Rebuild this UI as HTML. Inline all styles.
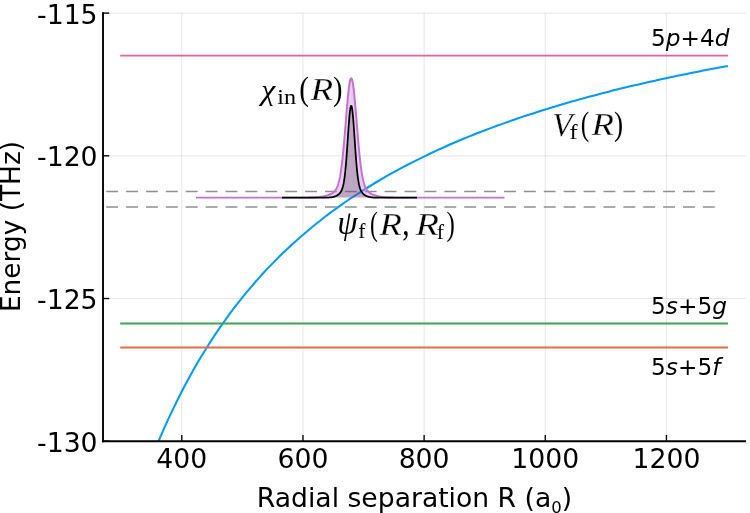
<!DOCTYPE html>
<html><head><meta charset="utf-8"><title>Energy vs radial separation</title>
<style>
html,body{margin:0;padding:0;background:#fff;}
svg{display:block;}
.sans{font-family:"DejaVu Sans","Liberation Sans",sans-serif;fill:#000;}
.ser{font-family:"Liberation Serif","DejaVu Serif",serif;fill:#000;}
.it{font-style:italic;}
</style></head><body>
<svg width="750" height="513" viewBox="0 0 750 513">
<rect width="750" height="513" fill="#fff"/>

<g stroke="#000" stroke-opacity="0.1" stroke-width="1" fill="none">
<line x1="181.80" y1="13.11" x2="181.80" y2="441.25"/>
<line x1="302.96" y1="13.11" x2="302.96" y2="441.25"/>
<line x1="424.12" y1="13.11" x2="424.12" y2="441.25"/>
<line x1="545.28" y1="13.11" x2="545.28" y2="441.25"/>
<line x1="666.44" y1="13.11" x2="666.44" y2="441.25"/>
<line x1="103.0" y1="13.11" x2="746.0" y2="13.11"/>
<line x1="103.0" y1="155.82" x2="746.0" y2="155.82"/>
<line x1="103.0" y1="298.53" x2="746.0" y2="298.53"/>
</g>
<clipPath id="pa"><rect x="103.0" y="13.11" width="643.0" height="428.14"/></clipPath>
<polyline clip-path="url(#pa)" points="156.2,446.9 160.3,437.2 164.4,427.7 168.5,418.6 172.7,409.9 176.8,401.4 180.9,393.2 185.0,385.3 189.1,377.7 193.2,370.3 197.3,363.1 201.4,356.2 205.6,349.5 209.7,343.0 213.8,336.6 217.9,330.5 222.0,324.6 226.1,318.8 230.2,313.2 234.3,307.7 238.5,302.4 242.6,297.2 246.7,292.2 250.8,287.3 254.9,282.5 259.0,277.9 263.1,273.3 267.2,268.9 271.4,264.6 275.5,260.4 279.6,256.3 283.7,252.3 287.8,248.4 291.9,244.6 296.0,240.9 300.1,237.2 304.3,233.7 308.4,230.2 312.5,226.8 316.6,223.5 320.7,220.2 324.8,217.0 328.9,213.9 333.0,210.8 337.2,207.8 341.3,204.9 345.4,202.0 349.5,199.2 353.6,196.5 357.7,193.8 361.8,191.1 365.9,188.5 370.1,186.0 374.2,183.5 378.3,181.0 382.4,178.6 386.5,176.2 390.6,173.9 394.7,171.6 398.8,169.4 403.0,167.2 407.1,165.0 411.2,162.9 415.3,160.8 419.4,158.8 423.5,156.8 427.6,154.8 431.8,152.8 435.9,150.9 440.0,149.0 444.1,147.2 448.2,145.3 452.3,143.5 456.4,141.8 460.5,140.0 464.7,138.3 468.8,136.6 472.9,135.0 477.0,133.3 481.1,131.7 485.2,130.2 489.3,128.6 493.4,127.1 497.6,125.5 501.7,124.1 505.8,122.6 509.9,121.1 514.0,119.7 518.1,118.3 522.2,116.9 526.3,115.5 530.5,114.2 534.6,112.9 538.7,111.5 542.8,110.2 546.9,109.0 551.0,107.7 555.1,106.5 559.2,105.2 563.4,104.0 567.5,102.8 571.6,101.6 575.7,100.5 579.8,99.3 583.9,98.2 588.0,97.1 592.1,96.0 596.3,94.9 600.4,93.8 604.5,92.7 608.6,91.7 612.7,90.6 616.8,89.6 620.9,88.6 625.0,87.6 629.2,86.6 633.3,85.6 637.4,84.7 641.5,83.7 645.6,82.8 649.7,81.8 653.8,80.9 658.0,80.0 662.1,79.1 666.2,78.2 670.3,77.3 674.4,76.4 678.5,75.6 682.6,74.7 686.7,73.9 690.9,73.0 695.0,72.2 699.1,71.4 703.2,70.6 707.3,69.8 711.4,69.0 715.5,68.2 719.6,67.5 723.8,66.7 727.9,65.9" fill="none" stroke="#009AFA" stroke-width="2.05" stroke-linejoin="round"/>
<line x1="120.2" y1="55.6" x2="728" y2="55.6" stroke="#ED5E93" stroke-width="1.9"/>
<line x1="120.2" y1="323.5" x2="728" y2="323.5" stroke="#3EA44E" stroke-width="1.9"/>
<line x1="120.2" y1="347.5" x2="728" y2="347.5" stroke="#E36F47" stroke-width="1.9"/>
<line x1="106.2" y1="191.5" x2="716" y2="191.5" stroke="#8f8f8f" stroke-width="1.6" stroke-dasharray="11.89 8"/>
<line x1="106.2" y1="207.0" x2="716" y2="207.0" stroke="#8f8f8f" stroke-width="1.6" stroke-dasharray="11.89 8"/>
<polygon points="196,197.6 196.0,197.6 196.5,197.6 197.0,197.6 197.5,197.6 198.0,197.6 198.5,197.6 199.0,197.6 199.5,197.6 200.0,197.6 200.5,197.6 201.0,197.6 201.5,197.6 202.0,197.6 202.5,197.6 203.0,197.6 203.5,197.6 204.0,197.6 204.5,197.6 205.0,197.6 205.5,197.6 206.0,197.6 206.5,197.6 207.0,197.6 207.5,197.6 208.0,197.6 208.5,197.6 209.0,197.6 209.5,197.6 210.0,197.6 210.5,197.6 211.0,197.6 211.5,197.6 212.0,197.6 212.5,197.6 213.0,197.6 213.5,197.6 214.0,197.6 214.5,197.6 215.0,197.6 215.5,197.6 216.0,197.6 216.5,197.6 217.0,197.6 217.5,197.6 218.0,197.6 218.5,197.6 219.0,197.6 219.5,197.6 220.0,197.6 220.5,197.6 221.0,197.6 221.5,197.6 222.0,197.6 222.5,197.6 223.0,197.6 223.5,197.6 224.0,197.6 224.5,197.6 225.0,197.6 225.5,197.6 226.0,197.6 226.5,197.6 227.0,197.6 227.5,197.6 228.0,197.6 228.5,197.6 229.0,197.6 229.5,197.6 230.0,197.6 230.5,197.6 231.0,197.6 231.5,197.6 232.0,197.6 232.5,197.6 233.0,197.6 233.5,197.6 234.0,197.6 234.5,197.6 235.0,197.6 235.5,197.6 236.0,197.6 236.5,197.6 237.0,197.6 237.5,197.6 238.0,197.6 238.5,197.6 239.0,197.6 239.5,197.6 240.0,197.6 240.5,197.6 241.0,197.6 241.5,197.6 242.0,197.6 242.5,197.6 243.0,197.6 243.5,197.6 244.0,197.6 244.5,197.6 245.0,197.6 245.5,197.6 246.0,197.6 246.5,197.6 247.0,197.6 247.5,197.6 248.0,197.6 248.5,197.6 249.0,197.6 249.5,197.6 250.0,197.6 250.5,197.6 251.0,197.6 251.5,197.6 252.0,197.6 252.5,197.6 253.0,197.6 253.5,197.6 254.0,197.6 254.5,197.6 255.0,197.6 255.5,197.6 256.0,197.6 256.5,197.6 257.0,197.6 257.5,197.6 258.0,197.6 258.5,197.6 259.0,197.6 259.5,197.6 260.0,197.6 260.5,197.6 261.0,197.6 261.5,197.6 262.0,197.6 262.5,197.6 263.0,197.6 263.5,197.6 264.0,197.6 264.5,197.6 265.0,197.6 265.5,197.6 266.0,197.6 266.5,197.6 267.0,197.6 267.5,197.6 268.0,197.6 268.5,197.6 269.0,197.6 269.5,197.6 270.0,197.6 270.5,197.6 271.0,197.6 271.5,197.6 272.0,197.6 272.5,197.6 273.0,197.6 273.5,197.6 274.0,197.6 274.5,197.6 275.0,197.6 275.5,197.6 276.0,197.6 276.5,197.6 277.0,197.6 277.5,197.6 278.0,197.6 278.5,197.6 279.0,197.6 279.5,197.6 280.0,197.6 280.5,197.6 281.0,197.6 281.5,197.6 282.0,197.6 282.5,197.6 283.0,197.6 283.5,197.6 284.0,197.6 284.5,197.6 285.0,197.6 285.5,197.6 286.0,197.6 286.5,197.6 287.0,197.6 287.5,197.6 288.0,197.6 288.5,197.6 289.0,197.6 289.5,197.6 290.0,197.6 290.5,197.6 291.0,197.6 291.5,197.6 292.0,197.6 292.5,197.6 293.0,197.6 293.5,197.6 294.0,197.6 294.5,197.6 295.0,197.6 295.5,197.6 296.0,197.6 296.5,197.6 297.0,197.6 297.5,197.6 298.0,197.6 298.5,197.6 299.0,197.6 299.5,197.6 300.0,197.6 300.5,197.6 301.0,197.6 301.5,197.6 302.0,197.6 302.5,197.6 303.0,197.6 303.5,197.6 304.0,197.6 304.5,197.6 305.0,197.6 305.5,197.6 306.0,197.6 306.5,197.6 307.0,197.6 307.5,197.6 308.0,197.6 308.5,197.6 309.0,197.5 309.5,197.5 310.0,197.5 310.5,197.5 311.0,197.5 311.5,197.5 312.0,197.5 312.5,197.5 313.0,197.5 313.5,197.4 314.0,197.4 314.5,197.4 315.0,197.4 315.5,197.3 316.0,197.3 316.5,197.3 317.0,197.2 317.5,197.2 318.0,197.2 318.5,197.1 319.0,197.1 319.5,197.0 320.0,196.9 320.5,196.9 321.0,196.8 321.5,196.7 322.0,196.7 322.5,196.6 323.0,196.5 323.5,196.4 324.0,196.3 324.5,196.1 325.0,196.0 325.5,195.9 326.0,195.8 326.5,195.6 327.0,195.5 327.5,195.3 328.0,195.1 328.5,194.9 329.0,194.7 329.5,194.5 330.0,194.3 330.5,194.1 331.0,193.8 331.5,193.6 332.0,193.3 332.5,193.0 333.0,192.6 333.5,192.2 334.0,191.8 334.5,191.3 335.0,190.7 335.5,190.1 336.0,189.3 336.5,188.4 337.0,187.4 337.5,186.2 338.0,184.8 338.5,183.2 339.0,181.3 339.5,179.2 340.0,176.7 340.5,173.8 341.0,170.6 341.5,167.0 342.0,163.0 342.5,158.6 343.0,153.8 343.5,148.7 344.0,143.1 344.5,137.4 345.0,131.4 345.5,125.2 346.0,119.0 346.5,112.9 347.0,106.9 347.5,101.2 348.0,95.9 348.5,91.1 349.0,86.9 349.5,83.5 350.0,80.9 350.5,79.1 351.0,78.3 351.5,78.4 352.0,79.4 352.5,81.3 353.0,84.1 353.5,87.7 354.0,92.0 354.5,96.9 355.0,102.3 355.5,108.1 356.0,114.1 356.5,120.2 357.0,126.4 357.5,132.6 358.0,138.5 358.5,144.3 359.0,149.7 359.5,154.8 360.0,159.5 360.5,163.9 361.0,167.8 361.5,171.3 362.0,174.4 362.5,177.2 363.0,179.6 363.5,181.7 364.0,183.6 364.5,185.1 365.0,186.5 365.5,187.6 366.0,188.6 366.5,189.5 367.0,190.2 367.5,190.8 368.0,191.4 368.5,191.9 369.0,192.3 369.5,192.7 370.0,193.0 370.5,193.3 371.0,193.6 371.5,193.9 372.0,194.1 372.5,194.4 373.0,194.6 373.5,194.8 374.0,195.0 374.5,195.2 375.0,195.3 375.5,195.5 376.0,195.6 376.5,195.8 377.0,195.9 377.5,196.1 378.0,196.2 378.5,196.3 379.0,196.4 379.5,196.5 380.0,196.6 380.5,196.7 381.0,196.7 381.5,196.8 382.0,196.9 382.5,197.0 383.0,197.0 383.5,197.1 384.0,197.1 384.5,197.2 385.0,197.2 385.5,197.2 386.0,197.3 386.5,197.3 387.0,197.3 387.5,197.4 388.0,197.4 388.5,197.4 389.0,197.4 389.5,197.5 390.0,197.5 390.5,197.5 391.0,197.5 391.5,197.5 392.0,197.5 392.5,197.5 393.0,197.5 393.5,197.5 394.0,197.6 394.5,197.6 395.0,197.6 395.5,197.6 396.0,197.6 396.5,197.6 397.0,197.6 397.5,197.6 398.0,197.6 398.5,197.6 399.0,197.6 399.5,197.6 400.0,197.6 400.5,197.6 401.0,197.6 401.5,197.6 402.0,197.6 402.5,197.6 403.0,197.6 403.5,197.6 404.0,197.6 404.5,197.6 405.0,197.6 405.5,197.6 406.0,197.6 406.5,197.6 407.0,197.6 407.5,197.6 408.0,197.6 408.5,197.6 409.0,197.6 409.5,197.6 410.0,197.6 410.5,197.6 411.0,197.6 411.5,197.6 412.0,197.6 412.5,197.6 413.0,197.6 413.5,197.6 414.0,197.6 414.5,197.6 415.0,197.6 415.5,197.6 416.0,197.6 416.5,197.6 417.0,197.6 417.5,197.6 418.0,197.6 418.5,197.6 419.0,197.6 419.5,197.6 420.0,197.6 420.5,197.6 421.0,197.6 421.5,197.6 422.0,197.6 422.5,197.6 423.0,197.6 423.5,197.6 424.0,197.6 424.5,197.6 425.0,197.6 425.5,197.6 426.0,197.6 426.5,197.6 427.0,197.6 427.5,197.6 428.0,197.6 428.5,197.6 429.0,197.6 429.5,197.6 430.0,197.6 430.5,197.6 431.0,197.6 431.5,197.6 432.0,197.6 432.5,197.6 433.0,197.6 433.5,197.6 434.0,197.6 434.5,197.6 435.0,197.6 435.5,197.6 436.0,197.6 436.5,197.6 437.0,197.6 437.5,197.6 438.0,197.6 438.5,197.6 439.0,197.6 439.5,197.6 440.0,197.6 440.5,197.6 441.0,197.6 441.5,197.6 442.0,197.6 442.5,197.6 443.0,197.6 443.5,197.6 444.0,197.6 444.5,197.6 445.0,197.6 445.5,197.6 446.0,197.6 446.5,197.6 447.0,197.6 447.5,197.6 448.0,197.6 448.5,197.6 449.0,197.6 449.5,197.6 450.0,197.6 450.5,197.6 451.0,197.6 451.5,197.6 452.0,197.6 452.5,197.6 453.0,197.6 453.5,197.6 454.0,197.6 454.5,197.6 455.0,197.6 455.5,197.6 456.0,197.6 456.5,197.6 457.0,197.6 457.5,197.6 458.0,197.6 458.5,197.6 459.0,197.6 459.5,197.6 460.0,197.6 460.5,197.6 461.0,197.6 461.5,197.6 462.0,197.6 462.5,197.6 463.0,197.6 463.5,197.6 464.0,197.6 464.5,197.6 465.0,197.6 465.5,197.6 466.0,197.6 466.5,197.6 467.0,197.6 467.5,197.6 468.0,197.6 468.5,197.6 469.0,197.6 469.5,197.6 470.0,197.6 470.5,197.6 471.0,197.6 471.5,197.6 472.0,197.6 472.5,197.6 473.0,197.6 473.5,197.6 474.0,197.6 474.5,197.6 475.0,197.6 475.5,197.6 476.0,197.6 476.5,197.6 477.0,197.6 477.5,197.6 478.0,197.6 478.5,197.6 479.0,197.6 479.5,197.6 480.0,197.6 480.5,197.6 481.0,197.6 481.5,197.6 482.0,197.6 482.5,197.6 483.0,197.6 483.5,197.6 484.0,197.6 484.5,197.6 485.0,197.6 485.5,197.6 486.0,197.6 486.5,197.6 487.0,197.6 487.5,197.6 488.0,197.6 488.5,197.6 489.0,197.6 489.5,197.6 490.0,197.6 490.5,197.6 491.0,197.6 491.5,197.6 492.0,197.6 492.5,197.6 493.0,197.6 493.5,197.6 494.0,197.6 494.5,197.6 495.0,197.6 495.5,197.6 496.0,197.6 496.5,197.6 497.0,197.6 497.5,197.6 498.0,197.6 498.5,197.6 499.0,197.6 499.5,197.6 500.0,197.6 500.5,197.6 501.0,197.6 501.5,197.6 502.0,197.6 502.5,197.6 503.0,197.6 503.5,197.6 504.0,197.6 504.5,197.6 504.8,197.6" fill="#C371D2" fill-opacity="0.36"/>
<polyline points="196.0,197.6 196.5,197.6 197.0,197.6 197.5,197.6 198.0,197.6 198.5,197.6 199.0,197.6 199.5,197.6 200.0,197.6 200.5,197.6 201.0,197.6 201.5,197.6 202.0,197.6 202.5,197.6 203.0,197.6 203.5,197.6 204.0,197.6 204.5,197.6 205.0,197.6 205.5,197.6 206.0,197.6 206.5,197.6 207.0,197.6 207.5,197.6 208.0,197.6 208.5,197.6 209.0,197.6 209.5,197.6 210.0,197.6 210.5,197.6 211.0,197.6 211.5,197.6 212.0,197.6 212.5,197.6 213.0,197.6 213.5,197.6 214.0,197.6 214.5,197.6 215.0,197.6 215.5,197.6 216.0,197.6 216.5,197.6 217.0,197.6 217.5,197.6 218.0,197.6 218.5,197.6 219.0,197.6 219.5,197.6 220.0,197.6 220.5,197.6 221.0,197.6 221.5,197.6 222.0,197.6 222.5,197.6 223.0,197.6 223.5,197.6 224.0,197.6 224.5,197.6 225.0,197.6 225.5,197.6 226.0,197.6 226.5,197.6 227.0,197.6 227.5,197.6 228.0,197.6 228.5,197.6 229.0,197.6 229.5,197.6 230.0,197.6 230.5,197.6 231.0,197.6 231.5,197.6 232.0,197.6 232.5,197.6 233.0,197.6 233.5,197.6 234.0,197.6 234.5,197.6 235.0,197.6 235.5,197.6 236.0,197.6 236.5,197.6 237.0,197.6 237.5,197.6 238.0,197.6 238.5,197.6 239.0,197.6 239.5,197.6 240.0,197.6 240.5,197.6 241.0,197.6 241.5,197.6 242.0,197.6 242.5,197.6 243.0,197.6 243.5,197.6 244.0,197.6 244.5,197.6 245.0,197.6 245.5,197.6 246.0,197.6 246.5,197.6 247.0,197.6 247.5,197.6 248.0,197.6 248.5,197.6 249.0,197.6 249.5,197.6 250.0,197.6 250.5,197.6 251.0,197.6 251.5,197.6 252.0,197.6 252.5,197.6 253.0,197.6 253.5,197.6 254.0,197.6 254.5,197.6 255.0,197.6 255.5,197.6 256.0,197.6 256.5,197.6 257.0,197.6 257.5,197.6 258.0,197.6 258.5,197.6 259.0,197.6 259.5,197.6 260.0,197.6 260.5,197.6 261.0,197.6 261.5,197.6 262.0,197.6 262.5,197.6 263.0,197.6 263.5,197.6 264.0,197.6 264.5,197.6 265.0,197.6 265.5,197.6 266.0,197.6 266.5,197.6 267.0,197.6 267.5,197.6 268.0,197.6 268.5,197.6 269.0,197.6 269.5,197.6 270.0,197.6 270.5,197.6 271.0,197.6 271.5,197.6 272.0,197.6 272.5,197.6 273.0,197.6 273.5,197.6 274.0,197.6 274.5,197.6 275.0,197.6 275.5,197.6 276.0,197.6 276.5,197.6 277.0,197.6 277.5,197.6 278.0,197.6 278.5,197.6 279.0,197.6 279.5,197.6 280.0,197.6 280.5,197.6 281.0,197.6 281.5,197.6 282.0,197.6 282.5,197.6 283.0,197.6 283.5,197.6 284.0,197.6 284.5,197.6 285.0,197.6 285.5,197.6 286.0,197.6 286.5,197.6 287.0,197.6 287.5,197.6 288.0,197.6 288.5,197.6 289.0,197.6 289.5,197.6 290.0,197.6 290.5,197.6 291.0,197.6 291.5,197.6 292.0,197.6 292.5,197.6 293.0,197.6 293.5,197.6 294.0,197.6 294.5,197.6 295.0,197.6 295.5,197.6 296.0,197.6 296.5,197.6 297.0,197.6 297.5,197.6 298.0,197.6 298.5,197.6 299.0,197.6 299.5,197.6 300.0,197.6 300.5,197.6 301.0,197.6 301.5,197.6 302.0,197.6 302.5,197.6 303.0,197.6 303.5,197.6 304.0,197.6 304.5,197.6 305.0,197.6 305.5,197.6 306.0,197.6 306.5,197.6 307.0,197.6 307.5,197.6 308.0,197.6 308.5,197.6 309.0,197.5 309.5,197.5 310.0,197.5 310.5,197.5 311.0,197.5 311.5,197.5 312.0,197.5 312.5,197.5 313.0,197.5 313.5,197.4 314.0,197.4 314.5,197.4 315.0,197.4 315.5,197.3 316.0,197.3 316.5,197.3 317.0,197.2 317.5,197.2 318.0,197.2 318.5,197.1 319.0,197.1 319.5,197.0 320.0,196.9 320.5,196.9 321.0,196.8 321.5,196.7 322.0,196.7 322.5,196.6 323.0,196.5 323.5,196.4 324.0,196.3 324.5,196.1 325.0,196.0 325.5,195.9 326.0,195.8 326.5,195.6 327.0,195.5 327.5,195.3 328.0,195.1 328.5,194.9 329.0,194.7 329.5,194.5 330.0,194.3 330.5,194.1 331.0,193.8 331.5,193.6 332.0,193.3 332.5,193.0 333.0,192.6 333.5,192.2 334.0,191.8 334.5,191.3 335.0,190.7 335.5,190.1 336.0,189.3 336.5,188.4 337.0,187.4 337.5,186.2 338.0,184.8 338.5,183.2 339.0,181.3 339.5,179.2 340.0,176.7 340.5,173.8 341.0,170.6 341.5,167.0 342.0,163.0 342.5,158.6 343.0,153.8 343.5,148.7 344.0,143.1 344.5,137.4 345.0,131.4 345.5,125.2 346.0,119.0 346.5,112.9 347.0,106.9 347.5,101.2 348.0,95.9 348.5,91.1 349.0,86.9 349.5,83.5 350.0,80.9 350.5,79.1 351.0,78.3 351.5,78.4 352.0,79.4 352.5,81.3 353.0,84.1 353.5,87.7 354.0,92.0 354.5,96.9 355.0,102.3 355.5,108.1 356.0,114.1 356.5,120.2 357.0,126.4 357.5,132.6 358.0,138.5 358.5,144.3 359.0,149.7 359.5,154.8 360.0,159.5 360.5,163.9 361.0,167.8 361.5,171.3 362.0,174.4 362.5,177.2 363.0,179.6 363.5,181.7 364.0,183.6 364.5,185.1 365.0,186.5 365.5,187.6 366.0,188.6 366.5,189.5 367.0,190.2 367.5,190.8 368.0,191.4 368.5,191.9 369.0,192.3 369.5,192.7 370.0,193.0 370.5,193.3 371.0,193.6 371.5,193.9 372.0,194.1 372.5,194.4 373.0,194.6 373.5,194.8 374.0,195.0 374.5,195.2 375.0,195.3 375.5,195.5 376.0,195.6 376.5,195.8 377.0,195.9 377.5,196.1 378.0,196.2 378.5,196.3 379.0,196.4 379.5,196.5 380.0,196.6 380.5,196.7 381.0,196.7 381.5,196.8 382.0,196.9 382.5,197.0 383.0,197.0 383.5,197.1 384.0,197.1 384.5,197.2 385.0,197.2 385.5,197.2 386.0,197.3 386.5,197.3 387.0,197.3 387.5,197.4 388.0,197.4 388.5,197.4 389.0,197.4 389.5,197.5 390.0,197.5 390.5,197.5 391.0,197.5 391.5,197.5 392.0,197.5 392.5,197.5 393.0,197.5 393.5,197.5 394.0,197.6 394.5,197.6 395.0,197.6 395.5,197.6 396.0,197.6 396.5,197.6 397.0,197.6 397.5,197.6 398.0,197.6 398.5,197.6 399.0,197.6 399.5,197.6 400.0,197.6 400.5,197.6 401.0,197.6 401.5,197.6 402.0,197.6 402.5,197.6 403.0,197.6 403.5,197.6 404.0,197.6 404.5,197.6 405.0,197.6 405.5,197.6 406.0,197.6 406.5,197.6 407.0,197.6 407.5,197.6 408.0,197.6 408.5,197.6 409.0,197.6 409.5,197.6 410.0,197.6 410.5,197.6 411.0,197.6 411.5,197.6 412.0,197.6 412.5,197.6 413.0,197.6 413.5,197.6 414.0,197.6 414.5,197.6 415.0,197.6 415.5,197.6 416.0,197.6 416.5,197.6 417.0,197.6 417.5,197.6 418.0,197.6 418.5,197.6 419.0,197.6 419.5,197.6 420.0,197.6 420.5,197.6 421.0,197.6 421.5,197.6 422.0,197.6 422.5,197.6 423.0,197.6 423.5,197.6 424.0,197.6 424.5,197.6 425.0,197.6 425.5,197.6 426.0,197.6 426.5,197.6 427.0,197.6 427.5,197.6 428.0,197.6 428.5,197.6 429.0,197.6 429.5,197.6 430.0,197.6 430.5,197.6 431.0,197.6 431.5,197.6 432.0,197.6 432.5,197.6 433.0,197.6 433.5,197.6 434.0,197.6 434.5,197.6 435.0,197.6 435.5,197.6 436.0,197.6 436.5,197.6 437.0,197.6 437.5,197.6 438.0,197.6 438.5,197.6 439.0,197.6 439.5,197.6 440.0,197.6 440.5,197.6 441.0,197.6 441.5,197.6 442.0,197.6 442.5,197.6 443.0,197.6 443.5,197.6 444.0,197.6 444.5,197.6 445.0,197.6 445.5,197.6 446.0,197.6 446.5,197.6 447.0,197.6 447.5,197.6 448.0,197.6 448.5,197.6 449.0,197.6 449.5,197.6 450.0,197.6 450.5,197.6 451.0,197.6 451.5,197.6 452.0,197.6 452.5,197.6 453.0,197.6 453.5,197.6 454.0,197.6 454.5,197.6 455.0,197.6 455.5,197.6 456.0,197.6 456.5,197.6 457.0,197.6 457.5,197.6 458.0,197.6 458.5,197.6 459.0,197.6 459.5,197.6 460.0,197.6 460.5,197.6 461.0,197.6 461.5,197.6 462.0,197.6 462.5,197.6 463.0,197.6 463.5,197.6 464.0,197.6 464.5,197.6 465.0,197.6 465.5,197.6 466.0,197.6 466.5,197.6 467.0,197.6 467.5,197.6 468.0,197.6 468.5,197.6 469.0,197.6 469.5,197.6 470.0,197.6 470.5,197.6 471.0,197.6 471.5,197.6 472.0,197.6 472.5,197.6 473.0,197.6 473.5,197.6 474.0,197.6 474.5,197.6 475.0,197.6 475.5,197.6 476.0,197.6 476.5,197.6 477.0,197.6 477.5,197.6 478.0,197.6 478.5,197.6 479.0,197.6 479.5,197.6 480.0,197.6 480.5,197.6 481.0,197.6 481.5,197.6 482.0,197.6 482.5,197.6 483.0,197.6 483.5,197.6 484.0,197.6 484.5,197.6 485.0,197.6 485.5,197.6 486.0,197.6 486.5,197.6 487.0,197.6 487.5,197.6 488.0,197.6 488.5,197.6 489.0,197.6 489.5,197.6 490.0,197.6 490.5,197.6 491.0,197.6 491.5,197.6 492.0,197.6 492.5,197.6 493.0,197.6 493.5,197.6 494.0,197.6 494.5,197.6 495.0,197.6 495.5,197.6 496.0,197.6 496.5,197.6 497.0,197.6 497.5,197.6 498.0,197.6 498.5,197.6 499.0,197.6 499.5,197.6 500.0,197.6 500.5,197.6 501.0,197.6 501.5,197.6 502.0,197.6 502.5,197.6 503.0,197.6 503.5,197.6 504.0,197.6 504.5,197.6" fill="none" stroke="#C371D2" stroke-width="1.95" stroke-linejoin="round"/>
<polygon points="282,197.6 282.0,197.6 282.5,197.6 283.0,197.6 283.5,197.6 284.0,197.6 284.5,197.6 285.0,197.6 285.5,197.6 286.0,197.6 286.5,197.6 287.0,197.6 287.5,197.6 288.0,197.6 288.5,197.6 289.0,197.6 289.5,197.6 290.0,197.6 290.5,197.6 291.0,197.6 291.5,197.6 292.0,197.6 292.5,197.6 293.0,197.6 293.5,197.6 294.0,197.6 294.5,197.6 295.0,197.6 295.5,197.6 296.0,197.6 296.5,197.6 297.0,197.6 297.5,197.6 298.0,197.6 298.5,197.6 299.0,197.6 299.5,197.6 300.0,197.6 300.5,197.6 301.0,197.6 301.5,197.6 302.0,197.6 302.5,197.6 303.0,197.6 303.5,197.6 304.0,197.6 304.5,197.6 305.0,197.6 305.5,197.6 306.0,197.6 306.5,197.6 307.0,197.6 307.5,197.6 308.0,197.6 308.5,197.6 309.0,197.6 309.5,197.6 310.0,197.6 310.5,197.6 311.0,197.6 311.5,197.6 312.0,197.6 312.5,197.6 313.0,197.6 313.5,197.6 314.0,197.6 314.5,197.6 315.0,197.6 315.5,197.6 316.0,197.6 316.5,197.6 317.0,197.6 317.5,197.6 318.0,197.6 318.5,197.6 319.0,197.6 319.5,197.6 320.0,197.6 320.5,197.6 321.0,197.6 321.5,197.6 322.0,197.6 322.5,197.6 323.0,197.6 323.5,197.6 324.0,197.6 324.5,197.6 325.0,197.6 325.5,197.6 326.0,197.6 326.5,197.6 327.0,197.5 327.5,197.5 328.0,197.5 328.5,197.5 329.0,197.5 329.5,197.4 330.0,197.4 330.5,197.4 331.0,197.3 331.5,197.3 332.0,197.2 332.5,197.1 333.0,197.0 333.5,196.9 334.0,196.8 334.5,196.6 335.0,196.4 335.5,196.2 336.0,196.0 336.5,195.8 337.0,195.5 337.5,195.2 338.0,194.8 338.5,194.4 339.0,194.0 339.5,193.5 340.0,192.9 340.5,192.3 341.0,191.5 341.5,190.5 342.0,189.4 342.5,187.9 343.0,186.2 343.5,184.0 344.0,181.2 344.5,177.9 345.0,173.8 345.5,169.1 346.0,163.5 346.5,157.3 347.0,150.4 347.5,143.2 348.0,135.7 348.5,128.4 349.0,121.6 349.5,115.6 350.0,110.8 350.5,107.5 351.0,105.8 351.5,106.0 352.0,108.0 352.5,111.6 353.0,116.7 353.5,122.9 354.0,129.8 354.5,137.2 355.0,144.6 355.5,151.8 356.0,158.6 356.5,164.7 357.0,170.1 357.5,174.7 358.0,178.6 358.5,181.8 359.0,184.4 359.5,186.6 360.0,188.3 360.5,189.6 361.0,190.7 361.5,191.6 362.0,192.4 362.5,193.0 363.0,193.6 363.5,194.1 364.0,194.5 364.5,194.9 365.0,195.2 365.5,195.5 366.0,195.8 366.5,196.1 367.0,196.3 367.5,196.5 368.0,196.6 368.5,196.8 369.0,196.9 369.5,197.0 370.0,197.1 370.5,197.2 371.0,197.3 371.5,197.3 372.0,197.4 372.5,197.4 373.0,197.5 373.5,197.5 374.0,197.5 374.5,197.5 375.0,197.5 375.5,197.6 376.0,197.6 376.5,197.6 377.0,197.6 377.5,197.6 378.0,197.6 378.5,197.6 379.0,197.6 379.5,197.6 380.0,197.6 380.5,197.6 381.0,197.6 381.5,197.6 382.0,197.6 382.5,197.6 383.0,197.6 383.5,197.6 384.0,197.6 384.5,197.6 385.0,197.6 385.5,197.6 386.0,197.6 386.5,197.6 387.0,197.6 387.5,197.6 388.0,197.6 388.5,197.6 389.0,197.6 389.5,197.6 390.0,197.6 390.5,197.6 391.0,197.6 391.5,197.6 392.0,197.6 392.5,197.6 393.0,197.6 393.5,197.6 394.0,197.6 394.5,197.6 395.0,197.6 395.5,197.6 396.0,197.6 396.5,197.6 397.0,197.6 397.5,197.6 398.0,197.6 398.5,197.6 399.0,197.6 399.5,197.6 400.0,197.6 400.5,197.6 401.0,197.6 401.5,197.6 402.0,197.6 402.5,197.6 403.0,197.6 403.5,197.6 404.0,197.6 404.5,197.6 405.0,197.6 405.5,197.6 406.0,197.6 406.5,197.6 407.0,197.6 407.5,197.6 408.0,197.6 408.5,197.6 409.0,197.6 409.5,197.6 410.0,197.6 410.5,197.6 411.0,197.6 411.5,197.6 412.0,197.6 412.5,197.6 413.0,197.6 413.5,197.6 414.0,197.6 414.5,197.6 415.0,197.6 415.5,197.6 416.0,197.6 416.5,197.6 417.0,197.6 417,197.6" fill="#000" fill-opacity="0.18"/>
<polyline points="282.0,197.6 282.5,197.6 283.0,197.6 283.5,197.6 284.0,197.6 284.5,197.6 285.0,197.6 285.5,197.6 286.0,197.6 286.5,197.6 287.0,197.6 287.5,197.6 288.0,197.6 288.5,197.6 289.0,197.6 289.5,197.6 290.0,197.6 290.5,197.6 291.0,197.6 291.5,197.6 292.0,197.6 292.5,197.6 293.0,197.6 293.5,197.6 294.0,197.6 294.5,197.6 295.0,197.6 295.5,197.6 296.0,197.6 296.5,197.6 297.0,197.6 297.5,197.6 298.0,197.6 298.5,197.6 299.0,197.6 299.5,197.6 300.0,197.6 300.5,197.6 301.0,197.6 301.5,197.6 302.0,197.6 302.5,197.6 303.0,197.6 303.5,197.6 304.0,197.6 304.5,197.6 305.0,197.6 305.5,197.6 306.0,197.6 306.5,197.6 307.0,197.6 307.5,197.6 308.0,197.6 308.5,197.6 309.0,197.6 309.5,197.6 310.0,197.6 310.5,197.6 311.0,197.6 311.5,197.6 312.0,197.6 312.5,197.6 313.0,197.6 313.5,197.6 314.0,197.6 314.5,197.6 315.0,197.6 315.5,197.6 316.0,197.6 316.5,197.6 317.0,197.6 317.5,197.6 318.0,197.6 318.5,197.6 319.0,197.6 319.5,197.6 320.0,197.6 320.5,197.6 321.0,197.6 321.5,197.6 322.0,197.6 322.5,197.6 323.0,197.6 323.5,197.6 324.0,197.6 324.5,197.6 325.0,197.6 325.5,197.6 326.0,197.6 326.5,197.6 327.0,197.5 327.5,197.5 328.0,197.5 328.5,197.5 329.0,197.5 329.5,197.4 330.0,197.4 330.5,197.4 331.0,197.3 331.5,197.3 332.0,197.2 332.5,197.1 333.0,197.0 333.5,196.9 334.0,196.8 334.5,196.6 335.0,196.4 335.5,196.2 336.0,196.0 336.5,195.8 337.0,195.5 337.5,195.2 338.0,194.8 338.5,194.4 339.0,194.0 339.5,193.5 340.0,192.9 340.5,192.3 341.0,191.5 341.5,190.5 342.0,189.4 342.5,187.9 343.0,186.2 343.5,184.0 344.0,181.2 344.5,177.9 345.0,173.8 345.5,169.1 346.0,163.5 346.5,157.3 347.0,150.4 347.5,143.2 348.0,135.7 348.5,128.4 349.0,121.6 349.5,115.6 350.0,110.8 350.5,107.5 351.0,105.8 351.5,106.0 352.0,108.0 352.5,111.6 353.0,116.7 353.5,122.9 354.0,129.8 354.5,137.2 355.0,144.6 355.5,151.8 356.0,158.6 356.5,164.7 357.0,170.1 357.5,174.7 358.0,178.6 358.5,181.8 359.0,184.4 359.5,186.6 360.0,188.3 360.5,189.6 361.0,190.7 361.5,191.6 362.0,192.4 362.5,193.0 363.0,193.6 363.5,194.1 364.0,194.5 364.5,194.9 365.0,195.2 365.5,195.5 366.0,195.8 366.5,196.1 367.0,196.3 367.5,196.5 368.0,196.6 368.5,196.8 369.0,196.9 369.5,197.0 370.0,197.1 370.5,197.2 371.0,197.3 371.5,197.3 372.0,197.4 372.5,197.4 373.0,197.5 373.5,197.5 374.0,197.5 374.5,197.5 375.0,197.5 375.5,197.6 376.0,197.6 376.5,197.6 377.0,197.6 377.5,197.6 378.0,197.6 378.5,197.6 379.0,197.6 379.5,197.6 380.0,197.6 380.5,197.6 381.0,197.6 381.5,197.6 382.0,197.6 382.5,197.6 383.0,197.6 383.5,197.6 384.0,197.6 384.5,197.6 385.0,197.6 385.5,197.6 386.0,197.6 386.5,197.6 387.0,197.6 387.5,197.6 388.0,197.6 388.5,197.6 389.0,197.6 389.5,197.6 390.0,197.6 390.5,197.6 391.0,197.6 391.5,197.6 392.0,197.6 392.5,197.6 393.0,197.6 393.5,197.6 394.0,197.6 394.5,197.6 395.0,197.6 395.5,197.6 396.0,197.6 396.5,197.6 397.0,197.6 397.5,197.6 398.0,197.6 398.5,197.6 399.0,197.6 399.5,197.6 400.0,197.6 400.5,197.6 401.0,197.6 401.5,197.6 402.0,197.6 402.5,197.6 403.0,197.6 403.5,197.6 404.0,197.6 404.5,197.6 405.0,197.6 405.5,197.6 406.0,197.6 406.5,197.6 407.0,197.6 407.5,197.6 408.0,197.6 408.5,197.6 409.0,197.6 409.5,197.6 410.0,197.6 410.5,197.6 411.0,197.6 411.5,197.6 412.0,197.6 412.5,197.6 413.0,197.6 413.5,197.6 414.0,197.6 414.5,197.6 415.0,197.6 415.5,197.6 416.0,197.6 416.5,197.6 417.0,197.6" fill="none" stroke="#000" stroke-width="1.75" stroke-linejoin="round"/>
<g stroke="#000" stroke-width="1.9" fill="none"><line x1="103.0" y1="12.209999999999999" x2="103.0" y2="442.15"/><line x1="102.1" y1="441.25" x2="746.0" y2="441.25"/>
</g><g stroke="#000" stroke-width="1.35" fill="none">
<line x1="181.80" y1="441.25" x2="181.80" y2="434.95"/>
<line x1="302.96" y1="441.25" x2="302.96" y2="434.95"/>
<line x1="424.12" y1="441.25" x2="424.12" y2="434.95"/>
<line x1="545.28" y1="441.25" x2="545.28" y2="434.95"/>
<line x1="666.44" y1="441.25" x2="666.44" y2="434.95"/>
<line x1="103.0" y1="13.11" x2="109.2" y2="13.11"/>
<line x1="103.0" y1="155.82" x2="109.2" y2="155.82"/>
<line x1="103.0" y1="298.53" x2="109.2" y2="298.53"/>
<line x1="103.0" y1="441.24" x2="109.2" y2="441.24"/>
</g>
<g class="sans">
<text font-size="26.7" text-anchor="middle" transform="translate(181.8,467.8) scale(1,1)">400</text>
<text font-size="26.7" text-anchor="middle" transform="translate(303.0,467.8) scale(1,1)">600</text>
<text font-size="26.7" text-anchor="middle" transform="translate(424.1,467.8) scale(1,1)">800</text>
<text font-size="26.7" text-anchor="middle" transform="translate(545.3,467.8) scale(1,1)">1000</text>
<text font-size="26.7" text-anchor="middle" transform="translate(666.4,467.8) scale(1,1)">1200</text>
<text font-size="26.7" text-anchor="end" transform="translate(97.6,23.7) scale(1,1)">-115</text>
<text font-size="26.7" text-anchor="end" transform="translate(97.6,166.4) scale(1,1)">-120</text>
<text font-size="26.7" text-anchor="end" transform="translate(97.6,309.1) scale(1,1)">-125</text>
<text font-size="26.7" text-anchor="end" transform="translate(97.6,451.8) scale(1,1)">-130</text>
<text font-size="26.62" text-anchor="middle" transform="translate(414.5,506.7) scale(1,1)">Radial separation R (a<tspan font-size="16.5" dy="5.8">0</tspan><tspan dy="-5.8">)</tspan></text>
<text font-size="26.4" text-anchor="middle" transform="translate(20.1,226.5) rotate(-90) scale(1,1)">Energy (THz)</text>
<text font-size="23.2" text-anchor="start" transform="translate(651.1,45.9) scale(1,1)">5<tspan class="it">p</tspan>+4<tspan class="it">d</tspan></text>
<text font-size="23.2" text-anchor="start" transform="translate(651.1,313.6) scale(1,1)">5<tspan class="it">s</tspan>+5<tspan class="it">g</tspan></text>
<text font-size="23.2" text-anchor="start" transform="translate(651.1,374.7) scale(1,1)">5<tspan class="it">s</tspan>+5<tspan class="it">f</tspan></text>
</g>
<g class="ser">
<text class="it" font-size="29.55" transform="translate(261.35,100.49) scale(1.078,1)">χ</text>
<text font-size="21.38" transform="translate(277.32,104.00) scale(1.131,1)">in</text>
<text font-size="33.44" transform="translate(299.33,99.88) scale(0.874,1)">(</text>
<text class="it" stroke="#fff" stroke-width="0.3" font-size="32.31" transform="translate(310.60,100.20) scale(1.149,1)">R</text>
<text font-size="33.44" transform="translate(332.95,99.88) scale(0.851,1)">)</text>
<text class="it" stroke="#fff" stroke-width="0.3" font-size="33.58" transform="translate(552.35,135.73) scale(0.984,1)">V</text>
<text font-size="20.29" transform="translate(569.57,139.10) scale(1.200,1)">f</text>
<text font-size="33.11" transform="translate(580.78,134.75) scale(0.767,1)">(</text>
<text class="it" stroke="#fff" stroke-width="0.3" font-size="31.69" transform="translate(591.40,134.90) scale(1.161,1)">R</text>
<text font-size="33.11" transform="translate(614.08,134.75) scale(0.825,1)">)</text>
<text class="it" font-size="32.72" transform="translate(337.23,233.53) scale(1.003,1)">ψ</text>
<text font-size="20.00" transform="translate(358.15,238.40) scale(1.083,1)">f</text>
<text font-size="33.11" transform="translate(369.96,234.95) scale(0.709,1)">(</text>
<text class="it" stroke="#fff" stroke-width="0.3" font-size="31.54" transform="translate(379.60,235.30) scale(1.161,1)">R</text>
<text font-size="37.20" transform="translate(402.23,235.02) scale(0.789,1)">,</text>
<text class="it" stroke="#fff" stroke-width="0.3" font-size="31.54" transform="translate(415.50,235.30) scale(1.220,1)">R</text>
<text font-size="20.43" transform="translate(436.85,238.70) scale(1.061,1)">f</text>
<text font-size="33.11" transform="translate(446.55,234.95) scale(0.755,1)">)</text>
</g>
</svg></body></html>
